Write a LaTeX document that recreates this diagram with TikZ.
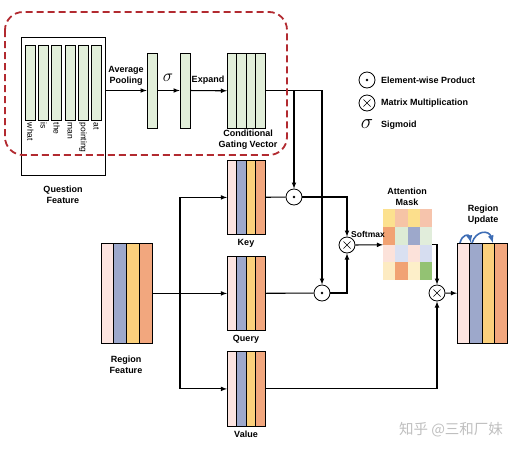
\documentclass[tikz,border=0pt]{standalone}
\usepackage{fontspec}
\setmainfont{Liberation Sans}
\newfontfamily\cjkfont{Noto Sans CJK SC}
\usetikzlibrary{arrows}
\definecolor{barGreen}{HTML}{E2EFDA}
\definecolor{stPink}{HTML}{FCE4E0}
\definecolor{stBlue}{HTML}{9DA8CB}
\definecolor{stYellow}{HTML}{FBD07C}
\definecolor{stOrange}{HTML}{F2A77E}
\definecolor{dashRed}{HTML}{B22A30}
\definecolor{arcBlue}{HTML}{3E6DB5}
\tikzstyle{lbl}=[font=\bfseries\fontsize{9}{11}\selectfont, align=center, inner sep=1pt]
\tikzstyle{wordlbl}=[font=\fontsize{8.5}{9}\selectfont, rotate=-90, anchor=west, inner sep=2pt]
\tikzstyle{gbar}=[rectangle, draw, line width=0.7pt, fill=barGreen, inner sep=0pt, minimum width=10pt, minimum height=75pt]
\tikzstyle{prodop}=[circle, draw, line width=0.8pt, minimum size=16pt, inner sep=0pt, fill=white,
  path picture={\fill[black] (path picture bounding box.center) circle (1.3pt);}]
\tikzstyle{matop}=[circle, draw, line width=0.8pt, minimum size=16pt, inner sep=0pt, fill=white,
  path picture={\draw[black, line width=0.6pt] (path picture bounding box.center) +(-45:5pt) -- +(135:5pt)
                 (path picture bounding box.center) +(45:5pt) -- +(-135:5pt);}]
\tikzstyle{conn}=[line width=1.1pt, -latex]
% block of four coloured stripes: name, left, top, width, height, colours
\newcommand{\featblock}[6]{%
  \foreach \c [count=\i from 0] in {#6}
    \fill[\c] ({#2+\i*#4/4},#3) rectangle ({#2+(\i+1)*#4/4},{#3+#5});
  \foreach \i in {1,2,3}
    \draw[line width=0.7pt] ({#2+\i*#4/4},#3) -- ({#2+\i*#4/4},{#3+#5});
  \node[draw, line width=0.8pt, inner sep=0pt, minimum width=#4pt, minimum height=#5pt,
        anchor=north west] (#1) at (#2,#3) {};
}

\begin{document}
\begin{tikzpicture}[x=1pt,y=-1pt]
  \useasboundingbox (0,0) rectangle (519,453);

  % question branch
  \node[draw, line width=0.8pt, minimum width=84pt, minimum height=138pt, anchor=north west] (qbox) at (21,37) {};
  \foreach \w [count=\i from 0] in {what,is,the,man,pointing,at}{
    \node[gbar, anchor=north west] (word\i) at ({25+\i*13.2},45) {};
    \node[wordlbl] at (word\i.south) {\w};
  }
  \node[lbl] (qlbl) at (63,195) {Question\\Feature};

  \node[gbar] (avgbar) at (152,90.5) {};
  \node[gbar] (sigbar) at (185,90.5) {};
  \featblock{cgv}{227}{53}{38}{75}{barGreen,barGreen,barGreen,barGreen}

  \draw[conn] (avgbar -| qbox.east) -- (avgbar);
  \draw[conn] (avgbar) -- (sigbar);
  \draw[conn] (sigbar) -- (cgv);
  \node[lbl] (avglbl) at (126,76) {Average\\Pooling};
  \node (siglbl) at (168,78) {\fontsize{16}{16}\selectfont$\sigma$};
  \node[lbl] (explbl) at (208,80) {Expand};
  \node[lbl] (cgvlbl) at (248,140) {Conditional\\Gating Vector};

  % region branch
  \featblock{region}{101}{243}{51}{100}{stPink,stBlue,stYellow,stOrange}
  \featblock{key}{227}{160}{38}{74}{stPink,stBlue,stYellow,stOrange}
  \featblock{query}{227}{256}{38}{74}{stPink,stBlue,stYellow,stOrange}
  \featblock{value}{227}{351}{38}{75}{stPink,stBlue,stYellow,stOrange}
  \featblock{update}{457}{243}{50}{100}{stPink,stBlue,stYellow,stOrange}
  \node[lbl] (reglbl) at (126,365) {Region\\Feature};
  \node[lbl] (keylbl) at (246,243) {Key};
  \node[lbl] (qrylbl) at (246,339) {Query};
  \node[lbl] (vallbl) at (246,434) {Value};
  \node[lbl] (updlbl) at (483,215) {Region\\Update};

  % attention mask
  \foreach \c [count=\i from 0] in {FCE18F,F6C4A6,FCDF8C,F6C4AC,
                                   F1A273,DDEBD5,9DA8CB,E1EDDB,
                                   FCE2DA,D9E0F1,FCE2DA,D6DDF0,
                                   FDEBC2,F1A273,FDEFC9,93C273}{
    \definecolor{cellc}{HTML}{\c}
    \pgfmathtruncatemacro{\col}{mod(\i,4)}
    \pgfmathtruncatemacro{\row}{div(\i,4)}
    \fill[cellc] ({383+\col*12.25},{209+\row*17.75}) rectangle ++(12.25,17.75);
  }
  \node[inner sep=0pt, minimum width=49pt, minimum height=71pt, anchor=north west] (mask) at (383,209) {};
  \node[lbl] (masklbl) at (407,197) {Attention\\Mask};

  % operators
  \node[prodop] (kprod) at (294,197) {};
  \node[prodop] (qprod) at (322,293) {};
  \node[matop] (smax) at (347,245) {};
  \node[matop] (vprod) at (437,293) {};
  \node[lbl, font=\bfseries\fontsize{8.5}{10}\selectfont] (smaxlbl) at (368,234) {Softmax};

  \draw[conn] (cgv.east) -| (qprod);
  \draw[conn] (kprod |- cgv.east) -- (kprod);
  \draw[line width=1.1pt] (key) -- (kprod);
  \draw[conn] (kprod) -| (smax);
  \draw[line width=1.1pt] (query) -- (qprod);
  \draw[conn] (qprod) -| (smax);
  \draw[conn] (smax) -- (mask);
  \draw[conn] (mask) -| (vprod);
  \draw[conn] (value) -| (vprod);
  \draw[conn] (vprod) -- (update);

  \coordinate (split) at (180,293);
  \draw[conn] (region) -- (query);
  \draw[conn] (split) |- (key);
  \draw[conn] (split) |- (value);

  % update arcs
  \draw[arcBlue, line width=1.6pt, -latex] (460,243) .. controls (462,234) and (469,234) .. (471,243);
  \draw[arcBlue, line width=1.6pt, -latex] (472,243) .. controls (476,230) and (489,230) .. (493,243);

  % legend
  \node[prodop] (legdot) at (367,80) {};
  \node[lbl, anchor=west] (legdotlbl) at (380,80) {Element-wise Product};
  \node[matop] (legx) at (367,103) {};
  \node[lbl, anchor=west] (legxlbl) at (380,103) {Matrix Multiplication};
  \node (legsig) at (367,124) {\fontsize{20}{20}\selectfont$\sigma$};
  \node[lbl, anchor=west] (legsiglbl) at (380,125) {Sigmoid};

  % gating region
  \draw[dashRed, line width=1.8pt, dash pattern=on 7pt off 4pt, rounded corners=18pt] (5,12) rectangle (287,155);

  \node[text=gray!50, font=\cjkfont\fontsize{14.5}{15}\selectfont] (mark) at (451,430) {知乎 @三和厂妹};
\end{tikzpicture}
\end{document}
